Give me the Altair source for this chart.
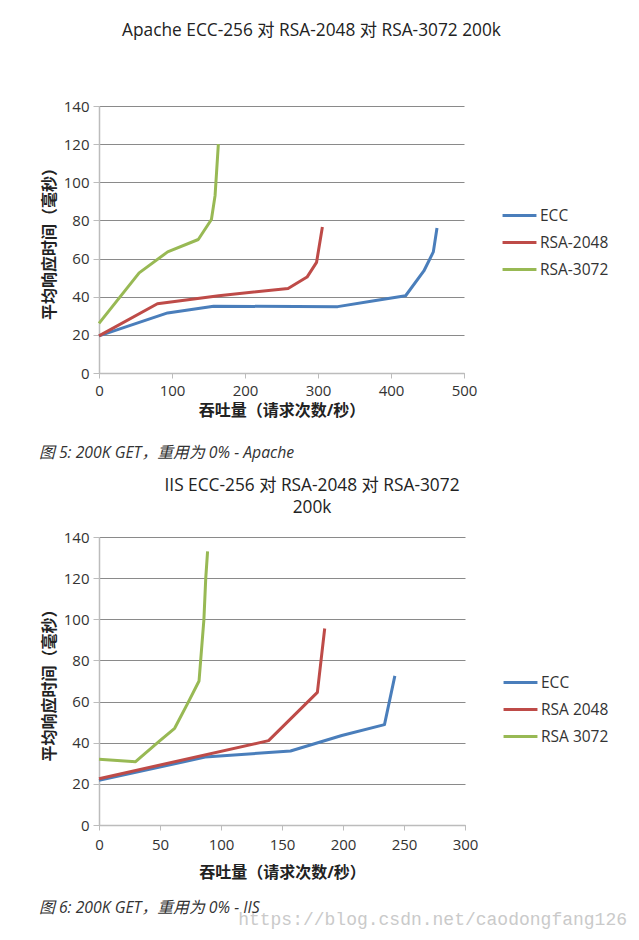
import altair as alt
import pandas as pd

FONT = "Open Sans, Noto Sans CJK SC, sans-serif"

# ---------------- Chart 1: Apache ----------------
a_title = "Apache ECC-256 对 RSA-2048 对 RSA-3072 200k"
a_caption = "图 5: 200K GET，重用为 0% - Apache"
a_series = ["ECC", "RSA-2048", "RSA-3072"]
a_ecc_x = [0, 94, 157, 327, 379, 420, 445, 458, 463]
a_ecc_y = [19.5, 31.5, 35, 34.8, 38, 40.5, 53.5, 63.5, 76]
a_2048_x = [0, 80, 164, 259, 285, 298, 306]
a_2048_y = [19.5, 36.3, 40.5, 44.3, 50.3, 58, 76.5]
a_3072_x = [0, 55, 94, 136, 154, 159, 161, 163.5]
a_3072_y = [26, 52.5, 63.5, 70, 80.5, 93, 105, 120]

# ---------------- Chart 2: IIS ----------------
b_title = ["IIS ECC-256 对 RSA-2048 对 RSA-3072", "200k"]
b_caption = "图 6: 200K GET，重用为 0% - IIS"
b_series = ["ECC", "RSA 2048", "RSA 3072"]
b_ecc_x = [0, 87, 157, 199, 234, 242.5]
b_ecc_y = [21.7, 33, 36, 43.5, 48.8, 72.5]
b_2048_x = [0, 139, 179, 185]
b_2048_y = [22.5, 41, 64.5, 95.5]
b_3072_x = [0, 30, 49, 62, 73, 82, 86, 87.5, 89]
b_3072_y = [32, 30.8, 40.5, 47, 59.5, 70, 100, 120, 133]

x_title = "吞吐量（请求次数/秒）"
y_title = "平均响应时间（毫秒）"
y_ticks = [0, 20, 40, 60, 80, 100, 120, 140]
a_x_ticks = [0, 100, 200, 300, 400, 500]
b_x_ticks = [0, 50, 100, 150, 200, 250, 300]
watermark = "https://blog.csdn.net/caodongfang126"

colors = ["#4A7EBB", "#BE4B48", "#98B954"]


def make_df(series, xs_list, ys_list):
    rows = []
    for s, xs, ys in zip(series, xs_list, ys_list):
        for i, (x, y) in enumerate(zip(xs, ys)):
            rows.append({"series": s, "x": x, "y": y, "i": i})
    return pd.DataFrame(rows)


def panel(df, series, title, title_offset, x_ticks, w, h, caption, cap_y, legend_y,
          x_label_pad, x_title_pad, extra=None):
    lines = alt.Chart(df).mark_line(strokeWidth=3, strokeJoin="round").encode(
        x=alt.X("x:Q", scale=alt.Scale(domain=[x_ticks[0], x_ticks[-1]], nice=False),
                axis=alt.Axis(values=x_ticks, title=x_title, grid=False, format="d",
                              labelFlush=False, labelPadding=x_label_pad, titlePadding=x_title_pad)),
        y=alt.Y("y:Q", scale=alt.Scale(domain=[0, 140], nice=False),
                axis=alt.Axis(values=y_ticks, title=y_title, grid=True, format="d", labelFlush=False)),
        color=alt.Color("series:N", scale=alt.Scale(domain=series, range=colors),
                        legend=alt.Legend(title=None, orient="none", legendX=w + 37, legendY=legend_y,
                                          symbolType="stroke", symbolSize=1150, symbolStrokeWidth=3,
                                          labelFontSize=15.5, labelFont=FONT, labelColor="#333333",
                                          labelOffset=2, clipHeight=27, rowPadding=0)),
        order="i:Q",
    )
    cap = alt.Chart(pd.DataFrame({"t": [caption]})).mark_text(
        align="left", baseline="middle", font=FONT, fontSize=15.8, fontStyle="italic", color="#333333"
    ).encode(text="t:N", x=alt.value(-60), y=alt.value(cap_y))
    layers = [lines, cap]
    if extra is not None:
        wm = alt.Chart(pd.DataFrame({"t": [extra]})).mark_text(
            align="right", baseline="middle", font="Liberation Mono", fontSize=18, color="#cacaca"
        ).encode(text="t:N", x=alt.value(528), y=alt.value(h + 95))
        layers.append(wm)
    return alt.layer(*layers).properties(
        width=w, height=h,
        title=alt.TitleParams(text=title, font=FONT, fontSize=17.3, fontWeight="normal", color="#222222",
                              anchor="middle", dx=30, offset=title_offset, lineHeight=22),
    )


df_a = make_df(a_series, [a_ecc_x, a_2048_x, a_3072_x], [a_ecc_y, a_2048_y, a_3072_y])
df_b = make_df(b_series, [b_ecc_x, b_2048_x, b_3072_x], [b_ecc_y, b_2048_y, b_3072_y])

c1 = panel(df_a, a_series, a_title, 60, a_x_ticks, 365, 267, a_caption, 347, 96, 5, 4)
c2 = panel(df_b, b_series, b_title, 14, b_x_ticks, 366, 288, b_caption, 371, 132, 7, 12, extra=watermark)

chart = alt.vconcat(c1, c2, spacing=15).resolve_scale(color="independent").resolve_legend(
    color="independent"
).properties(
    padding={"left": 31, "top": 13, "right": 2, "bottom": 2}
).configure_view(stroke=None).configure_axis(
    labelFont=FONT, labelFontSize=15, labelColor="#333333",
    titleFont=FONT, titleFontSize=16, titleColor="#222222", titleFontWeight="bold",
    domainColor="#bcbcbc", domainWidth=1.5, tickColor="#bcbcbc", tickWidth=1,
    gridColor="#8a8a8a", gridWidth=1,
).configure_axisX(
    tickSize=5
).configure_axisY(
    tickSize=6, labelPadding=4, titlePadding=6
)

chart.save("out.html", embed_options={"renderer": "svg", "actions": False})
